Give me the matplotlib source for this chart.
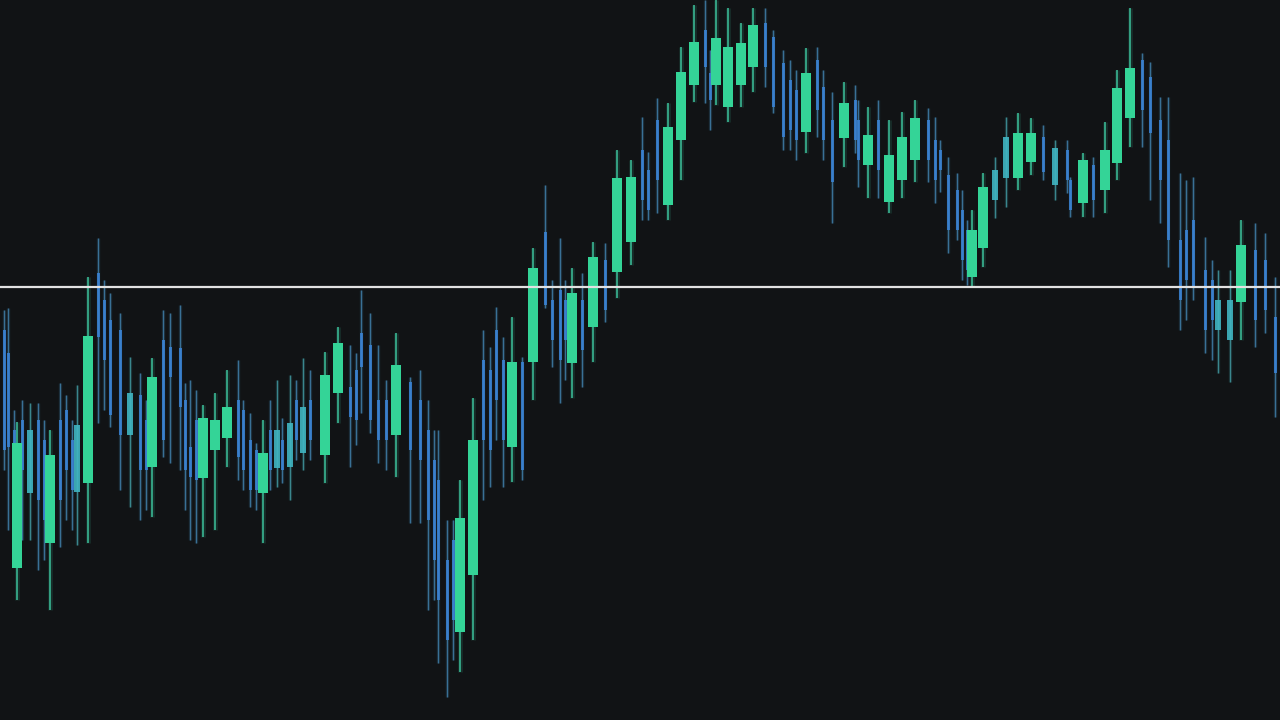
import numpy as np
import matplotlib.pyplot as plt

# price levels (0 = bottom edge, 720 = top edge)
# bullish candles, drawn wide and green
green_t = [17, 50, 88, 152, 203, 215, 227, 263, 325, 338, 396, 460, 473, 512,
           533, 572, 593, 617, 631, 668, 681, 694, 716, 728, 741, 753, 806, 844,
           868, 889, 902, 915, 972, 983, 1018, 1031, 1083, 1105, 1117, 1130, 1241]
green_o = [152, 177, 237, 253, 242, 270, 282, 227, 265, 327, 285, 88, 145, 273,
           358, 357, 393, 448, 478, 515, 580, 635, 635, 613, 635, 653, 588, 582,
           555, 518, 540, 560, 443, 472, 542, 558, 517, 530, 557, 602, 418]
green_h = [298, 290, 443, 362, 315, 327, 350, 300, 368, 393, 387, 240, 322, 403,
           472, 452, 478, 570, 560, 617, 673, 715, 720, 712, 697, 712, 672, 638,
           613, 600, 608, 620, 510, 547, 607, 602, 567, 598, 650, 712, 500]
green_l = [120, 110, 177, 203, 183, 190, 253, 177, 237, 297, 243, 48, 80, 238,
           320, 322, 358, 422, 455, 500, 540, 618, 615, 598, 613, 628, 567, 553,
           522, 507, 522, 538, 433, 453, 530, 545, 503, 507, 540, 573, 380]
green_c = [277, 265, 384, 343, 302, 300, 313, 267, 345, 377, 355, 202, 280, 358,
           452, 427, 463, 542, 543, 593, 648, 678, 682, 673, 677, 695, 647, 617,
           585, 565, 583, 602, 490, 533, 587, 587, 560, 570, 632, 652, 475]

# small teal candles
teal_t = [30, 77, 130, 277, 290, 303, 995, 1006, 1055, 1218, 1230]
teal_o = [227, 228, 285, 252, 253, 267, 520, 542, 535, 390, 380]
teal_h = [317, 335, 363, 340, 345, 362, 563, 603, 580, 450, 450]
teal_l = [180, 175, 213, 233, 220, 250, 502, 513, 520, 347, 338]
teal_c = [290, 295, 327, 290, 297, 313, 550, 583, 572, 420, 420]

# bearish candles, drawn thin and blue
blue_t = [4, 8, 14, 22, 38, 44, 60, 66, 72, 98, 104, 110, 120, 140, 146, 163,
          170, 180, 185, 190, 196, 238, 243, 250, 256, 270, 282, 296, 310, 350,
          356, 361, 370, 378, 386, 410, 420, 428, 434, 438, 447, 453, 483, 490,
          496, 503, 522, 545, 552, 560, 565, 582, 605, 642, 648, 657, 705, 710,
          765, 773, 783, 790, 796, 817, 823, 832, 855, 858, 878, 928, 935, 940,
          948, 957, 962, 967, 1043, 1067, 1070, 1093, 1142, 1150, 1160, 1168,
          1180, 1186, 1193, 1205, 1212, 1255, 1265, 1275]
blue_o = [390, 367, 290, 300, 300, 280, 300, 310, 280, 447, 420, 400, 390, 325,
          300, 380, 373, 372, 320, 273, 300, 320, 310, 280, 270, 290, 280, 320,
          320, 333, 350, 387, 375, 320, 320, 338, 320, 290, 260, 240, 160, 180,
          360, 350, 390, 360, 358, 488, 420, 430, 420, 420, 460, 570, 550, 600,
          690, 647, 697, 683, 657, 640, 630, 660, 633, 600, 620, 600, 600, 600,
          580, 570, 545, 530, 510, 490, 583, 570, 540, 555, 660, 643, 600, 580,
          480, 490, 500, 450, 440, 470, 460, 403]
blue_h = [410, 412, 310, 320, 317, 300, 337, 325, 300, 482, 440, 427, 407, 347,
          320, 410, 407, 415, 337, 340, 330, 360, 320, 307, 277, 320, 302, 340,
          350, 375, 367, 430, 407, 375, 340, 343, 350, 320, 290, 290, 200, 200,
          390, 373, 413, 383, 363, 535, 440, 482, 440, 447, 477, 603, 568, 622,
          720, 670, 712, 690, 670, 660, 650, 673, 650, 628, 635, 620, 620, 612,
          603, 580, 563, 547, 530, 500, 595, 580, 543, 563, 667, 658, 623, 623,
          547, 540, 543, 483, 460, 497, 487, 443]
blue_l = [250, 190, 160, 180, 150, 160, 173, 200, 190, 297, 310, 293, 230, 200,
          210, 263, 257, 250, 210, 180, 177, 240, 230, 213, 210, 230, 237, 260,
          260, 253, 275, 307, 287, 257, 250, 197, 197, 110, 120, 57, 23, 60,
          220, 233, 280, 233, 240, 412, 353, 317, 340, 333, 398, 500, 500, 507,
          617, 590, 633, 607, 570, 570, 560, 583, 560, 497, 567, 533, 522, 538,
          517, 528, 467, 480, 440, 435, 540, 527, 503, 503, 573, 520, 497, 453,
          390, 400, 420, 367, 360, 373, 387, 303]
blue_c = [270, 273, 220, 250, 220, 200, 220, 250, 230, 383, 360, 305, 285, 250,
          250, 280, 343, 313, 250, 243, 240, 263, 250, 230, 230, 250, 250, 280,
          280, 303, 300, 353, 300, 280, 280, 270, 260, 200, 160, 120, 80, 100,
          280, 270, 320, 280, 250, 415, 380, 360, 380, 370, 410, 520, 510, 540,
          653, 620, 653, 613, 583, 590, 580, 610, 580, 538, 580, 560, 550, 560,
          540, 550, 490, 490, 460, 450, 548, 540, 510, 520, 610, 587, 540, 480,
          420, 440, 433, 390, 400, 400, 410, 347]

level = 433  # horizontal reference line

bg = "#111315"
fig = plt.figure(figsize=(12.8, 7.2), dpi=100, facecolor=bg)
ax = fig.add_axes([0, 0, 1, 1])
ax.set_facecolor(bg)


def candles(t, o, h, l, c, width, color, wick_color, wick_lw, alpha=1.0):
    t = np.array(t, float)
    o = np.array(o, float)
    c = np.array(c, float)
    # soft glow behind the wicks
    ax.vlines(t, l, h, color=wick_color, lw=wick_lw * 2.5, alpha=alpha * 0.15, zorder=1)
    ax.vlines(t, l, h, color=wick_color, lw=wick_lw, alpha=alpha * 0.8, zorder=2)
    lo = np.minimum(o, c)
    ax.bar(t, np.abs(c - o), width=width, bottom=lo, color=color,
           alpha=alpha, linewidth=0, zorder=3)


candles(blue_t, blue_o, blue_h, blue_l, blue_c, 3, "#3b84d6", "#4a96c8", 1.0, 0.85)
candles(teal_t, teal_o, teal_h, teal_l, teal_c, 5.5, "#40b5c2", "#48acb4", 1.0, 0.9)
candles(green_t, green_o, green_h, green_l, green_c, 10, "#34d497", "#3cbf9a", 1.4)

ax.axhline(level, color="#e2e2e2", lw=1.6, zorder=5)

ax.set_xlim(0, 1280)
ax.set_ylim(0, 720)
ax.axis("off")

fig.savefig("out.png", dpi=100, facecolor=bg)
